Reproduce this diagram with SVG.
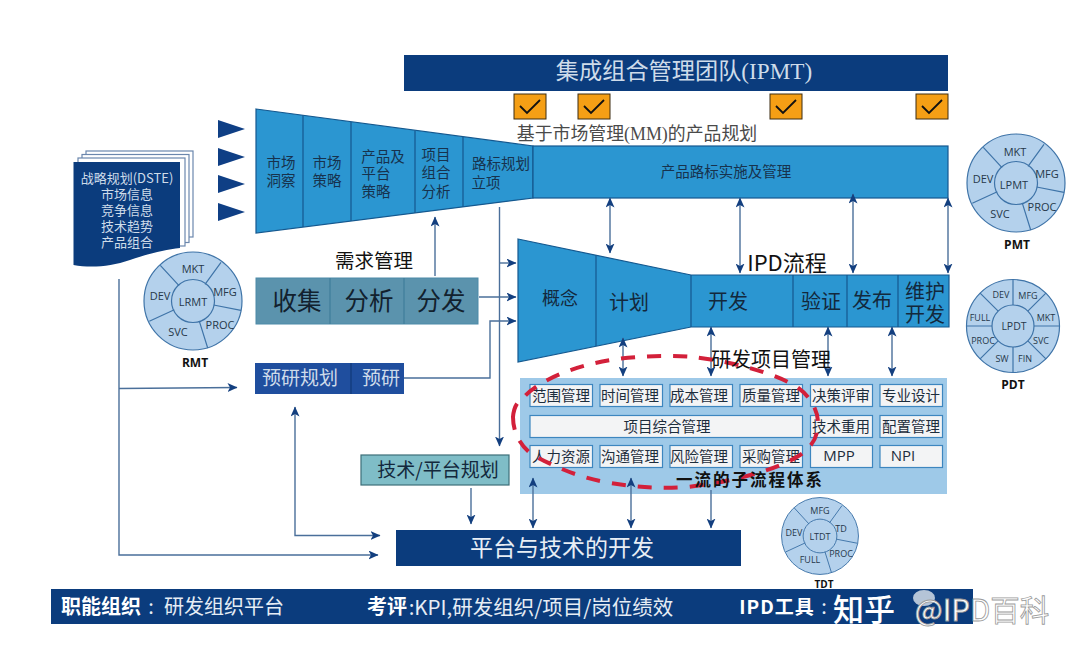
<svg xmlns="http://www.w3.org/2000/svg" xmlns:xlink="http://www.w3.org/1999/xlink" width="1080" height="655" viewBox="0 0 1080 655">
<style>
text{font-family:"Noto Sans CJK SC","Noto Sans",sans-serif;text-anchor:middle;dominant-baseline:central;transform:translateY(-1.5px)}
.ser{font-family:"Liberation Serif","Noto Sans CJK SC",serif}
.bar{fill:#0b3c7d}
.blue{fill:#2b96d1;stroke:#14588f;stroke-width:1.2}
.sep{stroke:#14588f;stroke-width:1.2;fill:none}
.dk{fill:#17324d;font-size:14.5px}
.big{fill:#13283c;font-size:20px}
.lt{fill:#cfdcea}
.conn{fill:none;stroke:#4a6f9a;stroke-width:1.4}
.chk{fill:#f59f15;stroke:#3c2c12;stroke-width:1}
.tick{fill:none;stroke:#111;stroke-width:1.8}
.b{fill:#f3f4f5;stroke:#3d86bf;stroke-width:1.2}
.bt{fill:#1d2d3c;font-size:14.5px}
.wc{fill:#b4d1ec;stroke:#3f74a8;stroke-width:1.2}
.wl{fill:none;stroke:#3f74a8;stroke-width:1.2}
.wt{font-family:"Open Sans","Noto Sans",sans-serif;fill:#26384a;font-size:11px;transform:none}
.ws{font-size:9px}
.wn{font-family:"Open Sans","Noto Sans",sans-serif;fill:#111;font-size:12px;font-weight:700;transform:none}
.pg{fill:#fff;stroke:#6b87ad;stroke-width:1.2}
.tri{fill:#0f3f85}
.ft{fill:#e6edf5;font-size:20px}
.ftb{fill:#fff;font-size:20px;font-weight:700}
</style>
<defs>
<marker id="a" markerWidth="11" markerHeight="9" refX="9.5" refY="4.5" orient="auto-start-reverse" markerUnits="userSpaceOnUse"><path d="M0 0L10 4.5L0 9L2.5 4.5Z" fill="#133f7f"/></marker>
<g id="w5">
<circle class="wc" r="49"/><circle class="wc" r="21.5"/>
<path class="wl" d="M-14 -15.3L-32.7 -35.7M12 -16.6L28 -38.7M20.6 4L48 9.3M6.3 20.1L14.7 47M-18.7 8.7L-43.7 20.3"/>
</g>
<g id="w8">
<circle class="wc" r="46.5"/><circle class="wc" r="21"/>
<path class="wl" d="M0 -21V-46.5M14.8 -14.8L32.9 -32.9M21 0H46.5M14.8 14.8L32.9 32.9M0 21V46.5M-14.8 14.8L-32.9 32.9M-21 0H-46.5M-14.8 -14.8L-32.9 -32.9"/>
</g>
<g id="chk"><rect class="chk" width="32" height="25"/><path class="tick" d="M6 12L13 19L26 6"/></g>
</defs>
<rect width="1080" height="655" fill="#fff"/>

<g id="ipmt"><rect class="bar" x="404" y="55" width="544" height="36"/>
<text class="lt ser" x="684" y="72" font-size="23.200">集成组合管理团队(IPMT)</text></g>
<g id="checks">
<use xlink:href="#chk" href="#chk" x="514" y="94"/><use xlink:href="#chk" href="#chk" x="578" y="94"/><use xlink:href="#chk" href="#chk" x="770" y="94"/><use xlink:href="#chk" href="#chk" x="916" y="94"/>
</g>
<g id="triangles">
<path class="tri" d="M218 120L245 129L218 138Z"/><path class="tri" d="M218 148L245 157L218 166Z"/><path class="tri" d="M218 175L245 184L218 193Z"/><path class="tri" d="M218 203L245 212L218 221Z"/>
</g>
<g id="dste">
<rect class="pg" x="86" y="151" width="107" height="86"/><rect class="pg" x="82" y="154.500" width="107" height="88"/><rect class="pg" x="78" y="158" width="107" height="88"/>
<path d="M73.500 162H180V248C165 250 150 253 130 260C110 267 90 268 73.500 265Z" fill="#0b3c7d"/>
<text class="lt" font-size="13"><tspan x="127" y="178">战略规划(DSTE)</tspan><tspan x="127" y="194">市场信息</tspan><tspan x="127" y="210">竞争信息</tspan><tspan x="127" y="226">技术趋势</tspan><tspan x="127" y="242">产品组合</tspan></text>
</g>
<g id="rmt"><use xlink:href="#w5" href="#w5" x="193" y="301"/>
<text class="wt" x="193" y="268">MKT</text><text class="wt" x="225" y="291">MFG</text><text class="wt" x="220" y="324">PROC</text><text class="wt" x="178" y="331">SVC</text><text class="wt" x="160" y="295">DEV</text><text class="wt" x="193" y="301">LRMT</text><text class="wn" x="195" y="362">RMT</text></g>

<g id="mm-funnel">
<path class="blue" d="M256 109L533 146V198L256 233Z"/>
<path class="sep" d="M303 115.300V227M351 122V221M415 130.500V213M463 137V207"/>
<text class="dk"><tspan x="281" y="162">市场</tspan><tspan x="281" y="180">洞察</tspan></text>
<text class="dk"><tspan x="327" y="162">市场</tspan><tspan x="327" y="180">策略</tspan></text>
<text class="dk"><tspan x="383" y="156">产品及</tspan><tspan x="376" y="173">平台</tspan><tspan x="376" y="191">策略</tspan></text>
<text class="dk"><tspan x="436" y="154">项目</tspan><tspan x="436" y="172">组合</tspan><tspan x="436" y="191">分析</tspan></text>
<text class="dk"><tspan x="501" y="163">路标规划</tspan><tspan x="486" y="182">立项</tspan></text>
</g>
<g id="mm-title"><text class="ser" x="637" y="135" font-size="17.900" fill="#4a4a4a">基于市场管理(MM)的产品规划</text></g>
<g id="roadmap"><rect class="blue" x="533" y="146" width="415" height="52"/><text class="dk" x="726" y="172">产品路标实施及管理</text></g>
<g id="pmt"><use xlink:href="#w5" href="#w5" x="1016" y="183"/>
<text class="wt" x="1015" y="151">MKT</text><text class="wt" x="1047" y="173">MFG</text><text class="wt" x="1042" y="206">PROC</text><text class="wt" x="1000" y="213">SVC</text><text class="wt" x="983" y="178">DEV</text><text class="wt" x="1014" y="184">LPMT</text><text class="wn" x="1017" y="244">PMT</text></g>
<g id="pdt"><use xlink:href="#w8" href="#w8" x="1013" y="326"/>
<text class="wt ws" x="1001" y="294">DEV</text><text class="wt ws" x="1028" y="295">MFG</text><text class="wt ws" x="1046" y="317">MKT</text><text class="wt ws" x="1041" y="340">SVC</text><text class="wt ws" x="1025" y="358">FIN</text><text class="wt ws" x="1002" y="358">SW</text><text class="wt ws" x="983" y="340">PROC</text><text class="wt ws" x="980" y="317">FULL</text><text class="wt" x="1014" y="326" style="font-size:10.500px">LPDT</text>
<text class="wn" x="1013" y="384">PDT</text></g>

<g id="demand"><text x="374" y="261" font-size="19.500" fill="#111">需求管理</text>
<rect x="256" y="278" width="222" height="46" fill="#5b93ad" stroke="#4d8aa8"/>
<path d="M330 278V324M404 278V324" stroke="#3f7d9b" stroke-width="1.200"/>
<text x="297" y="300.500" font-size="24.500" fill="#12212e">收集</text><text x="369" y="300.500" font-size="24.500" fill="#12212e">分析</text><text x="441" y="300.500" font-size="24.500" fill="#12212e">分发</text></g>
<g id="preresearch"><rect x="255" y="363" width="149" height="31" fill="#1f4e9e"/><path d="M351 363V394" stroke="#123a78" stroke-width="1.200"/>
<text class="lt" x="300" y="378" font-size="19">预研规划</text><text class="lt" x="381" y="378" font-size="19">预研</text></g>
<g id="techplan"><rect x="361" y="455" width="148" height="30" fill="#7fbdc7" stroke="#3c6e78" stroke-width="1.200"/><text x="438" y="470" font-size="19" fill="#13283c">技术/平台规划</text></g>
<g id="platform"><rect class="bar" x="396" y="530" width="345" height="36"/><text x="562" y="547" font-size="23" fill="#e8eef5">平台与技术的开发</text></g>

<g id="ipd">
<path class="blue" d="M518 239L691 275H949V327H691L518 362Z"/>
<path class="sep" d="M596 255V346M691 275V327M793 275V327M847 275V327M898 275V327"/>
<text class="big" x="560" y="298" style="font-size:18px">概念</text><text class="big" x="629" y="303">计划</text><text class="big" x="728" y="302">开发</text><text class="big" x="821" y="302">验证</text><text class="big" x="872" y="301">发布</text><text class="big"><tspan x="925" y="291">维护</tspan><tspan x="925" y="314">开发</tspan></text>
</g>
<g id="ipd-title"><text x="787" y="262" font-size="22" fill="#111">IPD流程</text></g>

<g id="subprocess">
<rect x="520" y="378" width="427" height="116" fill="#9ec9e8"/>
<g id="boxes">
<rect class="b" x="530" y="384.500" width="62.500" height="22"/><rect class="b" x="600" y="384.500" width="62.500" height="22"/><rect class="b" x="670" y="384.500" width="62.500" height="22"/><rect class="b" x="740" y="384.500" width="62.500" height="22"/><rect class="b" x="810.500" y="384.500" width="62" height="22"/><rect class="b" x="880" y="384.500" width="62.500" height="22"/>
<rect class="b" x="530" y="415.500" width="272.500" height="22"/><rect class="b" x="810.500" y="415.500" width="62" height="22"/><rect class="b" x="880" y="415.500" width="62.500" height="22"/>
<rect class="b" x="530" y="445.500" width="62.500" height="22"/><rect class="b" x="600" y="445.500" width="62.500" height="22"/><rect class="b" x="670" y="445.500" width="62.500" height="22"/><rect class="b" x="740" y="445.500" width="62.500" height="22"/><rect class="b" x="810.500" y="445.500" width="62" height="22"/><rect class="b" x="880" y="445.500" width="62.500" height="22"/>
</g>
<text class="bt" x="561" y="395.500">范围管理</text><text class="bt" x="630" y="395.500">时间管理</text><text class="bt" x="699" y="395.500">成本管理</text><text class="bt" x="771" y="395.500">质量管理</text><text class="bt" x="841" y="395.500">决策评审</text><text class="bt" x="911" y="395.500">专业设计</text>
<text class="bt" x="667" y="426.500">项目综合管理</text><text class="bt" x="841" y="426.500">技术重用</text><text class="bt" x="911" y="426.500">配置管理</text>
<text class="bt" x="561" y="456.500">人力资源</text><text class="bt" x="630" y="456.500">沟通管理</text><text class="bt" x="699" y="456.500">风险管理</text><text class="bt" x="771" y="456.500">采购管理</text><text class="bt" x="839" y="456" style="font-family:'Open Sans',sans-serif;font-size:15px">MPP</text><text class="bt" x="903" y="456" style="font-family:'Open Sans',sans-serif;font-size:15px">NPI</text>
</g>

<g id="connectors">
<path class="conn" marker-end="url(#a)" d="M435 276V217"/>
<path class="conn" marker-end="url(#a)" d="M479 297H516"/>
<path class="conn" marker-end="url(#a)" d="M404 378H490V321H516"/>
<path class="conn" marker-end="url(#a)" d="M499.500 207V446"/>
<path class="conn" marker-end="url(#a)" d="M499.500 263H516"/>
<path class="conn" marker-end="url(#a)" d="M119 279V555H378"/>
<path class="conn" marker-end="url(#a)" d="M119 388.500L237 387.500"/>
<path class="conn" marker-start="url(#a)" marker-end="url(#a)" d="M295 407V535.500H380"/>
<path class="conn" marker-end="url(#a)" d="M471 488V524"/>
<path class="conn" marker-start="url(#a)" marker-end="url(#a)" d="M610 198V253"/>
<path class="conn" marker-start="url(#a)" marker-end="url(#a)" d="M740 198V273"/>
<path class="conn" marker-start="url(#a)" marker-end="url(#a)" d="M853 194V273"/>
<path class="conn" marker-start="url(#a)" marker-end="url(#a)" d="M948 198V273"/>
<path class="conn" marker-start="url(#a)" marker-end="url(#a)" d="M623 338V376"/>
<path class="conn" marker-start="url(#a)" marker-end="url(#a)" d="M711 327V376"/>
<path class="conn" marker-start="url(#a)" marker-end="url(#a)" d="M828 327V376"/>
<path class="conn" marker-start="url(#a)" marker-end="url(#a)" d="M892 327V376"/>
<path class="conn" marker-start="url(#a)" marker-end="url(#a)" d="M533 478V528"/>
<path class="conn" marker-start="url(#a)" marker-end="url(#a)" d="M631 478V528"/>
<path class="conn" marker-end="url(#a)" d="M711 490V528"/>
</g>
<g id="red-ring"><path d="M513 417C514 405 519 400 525 396C540 380 575 365 617 359C640 356 670 355 693 357C730 361 775 373 797 387C810 396 818 410 818 423C818 437 812 447 800 455C780 468 740 481 687 487C660 489 635 487 610 483C580 478 555 467 533 455C520 446 513 432 513 417Z" fill="none" stroke="#d3203a" stroke-width="4" stroke-dasharray="14 12"/></g>
<g id="rd-title"><text x="771" y="360" font-size="20" fill="#111">研发项目管理</text></g>
<g id="sub-title"><text x="750" y="480" font-size="16.500" font-weight="700" fill="#111" letter-spacing="2">一流的子流程体系</text></g>

<g id="tdt"><use xlink:href="#w5" href="#w5" transform="translate(820 536) scale(0.785)"/>
<text class="wt ws" x="820" y="510">MFG</text><text class="wt ws" x="841" y="528">TD</text><text class="wt ws" x="841" y="553">PROC</text><text class="wt ws" x="810" y="559">FULL</text><text class="wt ws" x="794" y="532">DEV</text><text class="wt ws" x="820" y="536">LTDT</text>
<text class="wn" x="824" y="584" style="font-size:10px">TDT</text></g>

<g id="footer"><rect class="bar" x="51" y="589" width="922" height="35"/>
<text class="ftb" x="101" y="607">职能组织</text><text class="ft" x="151" y="607">:</text><text class="ft" x="224" y="607">研发组织平台</text>
<text class="ftb" x="387" y="607">考评</text><text class="ft" x="541" y="607" style="font-size:20.500px">:KPI,研发组织/项目/岗位绩效</text>
<text class="ftb" x="777" y="607" letter-spacing="1" style="font-size:19px">IPD工具</text><text class="ft" x="824" y="607">:</text></g>
<g id="watermark">
<text x="864" y="609" font-size="31" font-weight="500" fill="#fff">知乎</text>
<ellipse cx="924" cy="598" rx="11" ry="8" fill="#dfe6ee" opacity="0.8"/>
<text x="982" y="609" font-size="29.500" fill="#fff" stroke="#9a9a9a" stroke-width="0.800">@IPD百科</text>
</g>
</svg>
